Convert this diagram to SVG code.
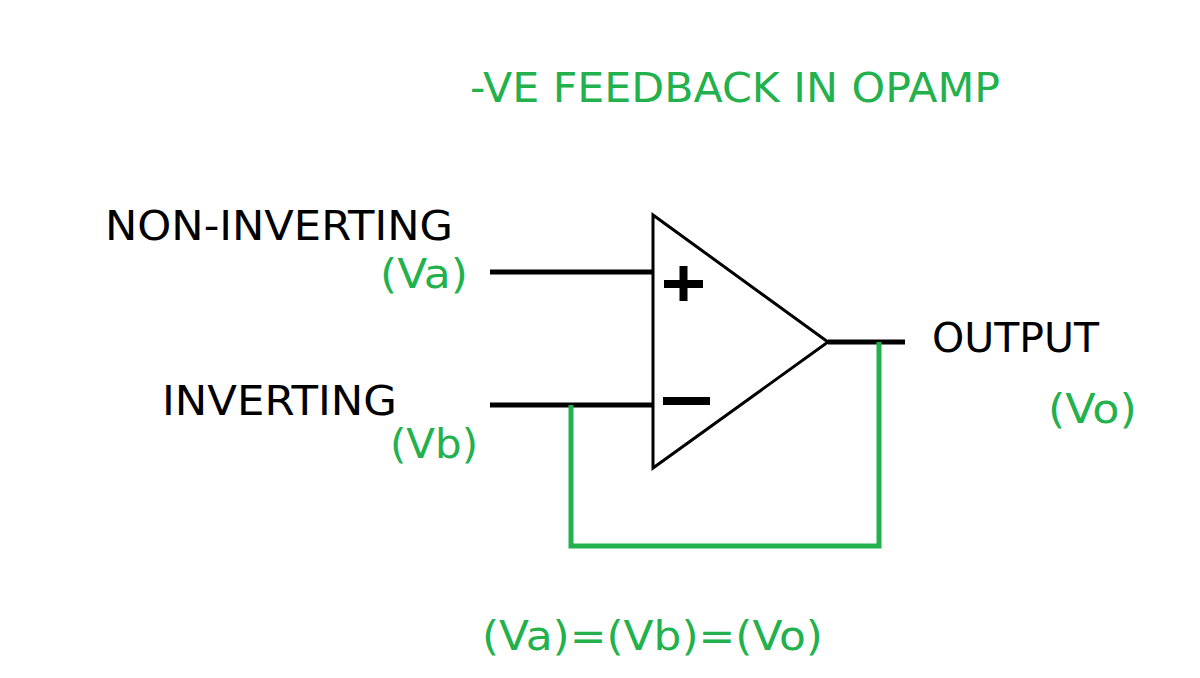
<svg xmlns="http://www.w3.org/2000/svg" width="1200" height="678" viewBox="0 0 1200 678">
<style>
text{font-family:"DejaVu Sans","Liberation Sans",sans-serif;font-size:41px}
.g{fill:#22b14c}.k{fill:#000}
.w{stroke:#000;stroke-width:5;fill:none}
.f{stroke:#22b14c;stroke-width:5;fill:none}
</style>
<rect width="1200" height="678" fill="#fff"/>
<text class="g" x="470" y="102" textLength="530" lengthAdjust="spacingAndGlyphs">-VE FEEDBACK IN OPAMP</text>
<g id="opamp">
<polygon points="653,215 653,468 828,342" fill="none" stroke="#000" stroke-width="3"/>
<path d="M664,284H703M683.5,266V301" stroke="#000" stroke-width="8"/>
<path d="M663,401H710" stroke="#000" stroke-width="8"/>
</g>
<g id="connectors">
<path class="w" d="M490,272H653M490,405H653M828,342H905"/>
<path class="f" d="M571,405V546H879V342"/>
</g>
<g id="labels">
<text class="k" x="105" y="240" textLength="348" lengthAdjust="spacingAndGlyphs">NON-INVERTING</text>
<text class="g" x="380" y="288" textLength="88" lengthAdjust="spacingAndGlyphs">(Va)</text>
<text class="k" x="162" y="415" textLength="235" lengthAdjust="spacingAndGlyphs">INVERTING</text>
<text class="g" x="390" y="458" textLength="88" lengthAdjust="spacingAndGlyphs">(Vb)</text>
<text class="k" x="932" y="352" textLength="167" lengthAdjust="spacingAndGlyphs">OUTPUT</text>
<text class="g" x="1048" y="423" textLength="89" lengthAdjust="spacingAndGlyphs">(Vo)</text>
<text class="g" x="482" y="650" textLength="341" lengthAdjust="spacingAndGlyphs">(Va)=(Vb)=(Vo)</text>
</g>
</svg>
